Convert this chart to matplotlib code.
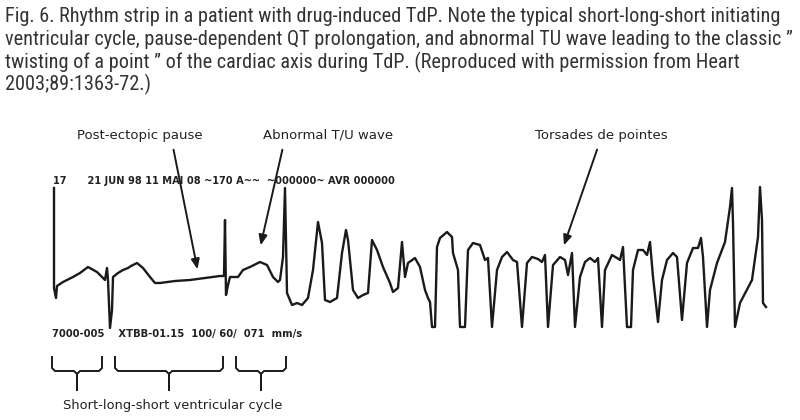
import matplotlib
matplotlib.use('Agg')
import matplotlib.pyplot as plt
from matplotlib import font_manager

# caption and labels
caption_lines = [
    "Fig. 6. Rhythm strip in a patient with drug-induced TdP. Note the typical short-long-short initiating",
    "ventricular cycle, pause-dependent QT prolongation, and abnormal TU wave leading to the classic \u201d",
    "twisting of a point \u201d of the cardiac axis during TdP. (Reproduced with permission from Heart",
    "2003;89:1363-72.)",
]
labels = ["Post-ectopic pause", "Abnormal T/U wave", "Torsades de pointes"]
label_xy = [(77, 135), (263, 135), (535, 135)]
arrow_from = [(173, 147), (283, 147), (598, 147)]
arrow_to = [(198, 272), (260, 248), (563, 248)]
cycle_label = "Short-long-short ventricular cycle"
header_top = "17      21 JUN 98 11 MAI 08 ~170 A~~  ~000000~ AVR 000000"
header_bottom = "7000-005    XTBB-01.15  100/ 60/  071  mm/s"

# braces: left edge, right edge
brace_left = [52, 115, 236]
brace_right = [102, 223, 286]

ecg_x = [54, 54, 56, 57, 63, 73, 80, 88, 97, 105, 107, 108, 110, 112, 113, 118, 123, 128, 131, 137,
         143, 150, 155, 160, 175, 190, 205, 220, 224, 225, 226, 228, 230, 238, 243, 250, 260, 267,
         273, 278, 280, 283, 285, 287, 292, 297, 302, 308, 313, 318, 322, 325, 330, 337, 342, 346,
         348, 353, 358, 363, 368, 372, 377, 383, 390, 393, 398, 402, 405, 408, 415, 420, 425, 428,
         430, 432, 435, 437, 440, 447, 452, 453, 458, 460, 465, 468, 473, 480, 485, 488, 492, 497,
         502, 507, 513, 517, 522, 527, 532, 538, 542, 545, 548, 553, 560, 565, 568, 572, 575, 580,
         585, 590, 595, 598, 602, 605, 612, 617, 620, 623, 627, 631, 633, 638, 643, 647, 650, 653,
         658, 662, 667, 673, 677, 682, 687, 693, 698, 701, 703, 707, 710, 717, 725, 730, 732, 733,
         735, 740, 752, 758, 760, 762, 763, 766]
ecg_y = [188, 288, 298, 286, 282, 277, 273, 267, 272, 280, 268, 280, 328, 310, 277, 273, 270, 268, 266, 263,
         268, 277, 283, 283, 281, 280, 278, 276, 276, 220, 295, 285, 277, 277, 270, 267, 262, 265,
         277, 282, 280, 257, 188, 293, 305, 303, 305, 298, 270, 222, 243, 300, 302, 298, 253, 230,
         240, 290, 298, 295, 293, 240, 250, 267, 283, 292, 288, 242, 277, 263, 258, 267, 290, 298,
         302, 327, 327, 247, 238, 232, 237, 253, 270, 327, 327, 250, 243, 245, 260, 258, 327, 270,
         257, 252, 260, 262, 327, 263, 257, 259, 262, 255, 327, 265, 257, 260, 275, 253, 327, 277,
         262, 258, 262, 258, 327, 270, 255, 258, 260, 247, 327, 327, 270, 250, 250, 255, 242, 277,
         322, 280, 260, 253, 257, 320, 263, 248, 248, 238, 257, 327, 290, 263, 242, 207, 188, 223,
         327, 303, 280, 237, 187, 220, 303, 307]


def pick_narrow():
    names = sorted({f.name for f in font_manager.fontManager.ttflist})
    for want in ["Roboto Condensed", "Liberation Sans Narrow", "Open Sans Condensed", "DejaVu Sans Condensed"]:
        if want in names:
            return want
    return "Roboto"


fig = plt.figure(figsize=(8, 4.2), dpi=100)
ax = fig.add_axes([0, 0, 1, 1])
ax.set_xlim(0, 800)
ax.set_ylim(420, 0)
ax.axis('off')

cap_font = pick_narrow()
for i, line in enumerate(caption_lines):
    ax.text(5, 17 + i * 22.5, line, fontsize=14.6, family=cap_font, color='#333333', va='center', ha='left')

# ECG strip
ax.plot(ecg_x, ecg_y, color='#1a1a1a', lw=1.7, solid_joinstyle='round')

# printed header garbage on the strip
ax.text(53, 181, header_top, fontsize=7.1, fontweight='heavy', family='DejaVu Sans', color='#222222', va='center')
ax.text(52, 334, header_bottom, fontsize=7.2, fontweight='heavy', family='DejaVu Sans', color='#222222', va='center')

# annotations with arrows
for lab, (tx, ty), p0, p1 in zip(labels, label_xy, arrow_from, arrow_to):
    ax.text(tx, ty, lab, fontsize=9.5, family='DejaVu Sans', color='#222222', va='center', ha='left')
    ax.annotate('', xy=p1, xytext=p0,
                arrowprops=dict(arrowstyle='-|>,head_length=0.6,head_width=0.25', color='#1a1a1a', lw=1.4))

# braces for the short-long-short cycle
for l, r in zip(brace_left, brace_right):
    c = (l + r) / 2
    bx = [l, l, l + 3, c - 3, c, c, c, c + 3, r - 3, r, r]
    by = [357, 368, 371, 371, 374, 390, 374, 371, 371, 368, 357]
    ax.plot(bx, by, color='#1a1a1a', lw=1.4, solid_joinstyle='round')

ax.text(63, 405, cycle_label, fontsize=9.4, family='DejaVu Sans', color='#222222', va='center', ha='left')

fig.savefig('out.png', dpi=100)
